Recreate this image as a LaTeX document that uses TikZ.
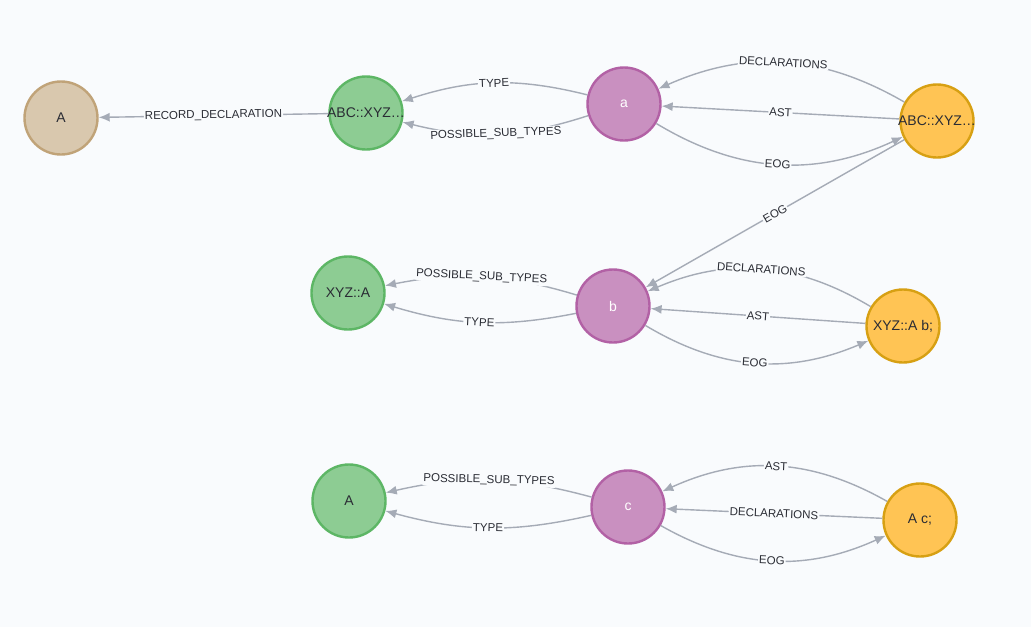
\documentclass[tikz,border=0pt]{standalone}
\usepackage{fontspec}
\setmainfont{Liberation Sans}
\usetikzlibrary{arrows.meta}
\definecolor{bgcol}{HTML}{F9FBFD}
\definecolor{edgecol}{HTML}{A5ABB6}
\definecolor{txtcol}{HTML}{2A2C34}
\definecolor{recfill}{HTML}{D9C8AE}
\definecolor{recdraw}{HTML}{C0A378}
\definecolor{typefill}{HTML}{8DCC93}
\definecolor{typedraw}{HTML}{5DB665}
\definecolor{varfill}{HTML}{C990C0}
\definecolor{vardraw}{HTML}{B261A5}
\definecolor{declfill}{HTML}{FFC454}
\definecolor{decldraw}{HTML}{D7A013}
\tikzstyle{base} = [circle, line width=2.4pt, minimum size=73pt, inner sep=0pt, font=\fontsize{14}{16}\selectfont, text=txtcol]
\tikzstyle{record} = [base, draw=recdraw, fill=recfill]
\tikzstyle{typenode} = [base, draw=typedraw, fill=typefill]
\tikzstyle{varnode} = [base, draw=vardraw, fill=varfill, text=white]
\tikzstyle{decl} = [base, draw=decldraw, fill=declfill]
\tikzstyle{rel} = [draw=edgecol, line width=1.4pt, -{Latex[length=11pt,width=9pt]}]
\tikzstyle{lbl} = [fill=bgcol, inner sep=1pt, sloped, text=txtcol, font=\fontsize{11.5}{13}\selectfont]

\begin{document}
\begin{tikzpicture}[x=1pt, y=1pt]

	\fill [bgcol] (0,0) rectangle (1031,-627);
	\useasboundingbox (0,0) rectangle (1031,-627);

	% first declaration
	\node [record] (recA) at (61,-118) {A};
	\node [typenode] (abcType) at (366,-113) {\makebox[0pt]{ABC::XYZ…}};
	\node [varnode] (varA) at (624,-104) {a};
	\node [decl] (declA) at (937,-121) {\makebox[0pt]{ABC::XYZ…}};

	% second declaration
	\node [typenode] (xyzType) at (348,-293) {XYZ::A};
	\node [varnode] (varB) at (613,-306) {b};
	\node [decl] (declB) at (903,-326) {\makebox[0pt]{XYZ::A b;}};

	% third declaration
	\node [typenode] (aType) at (349,-501) {A};
	\node [varnode] (varC) at (628,-507) {c};
	\node [decl] (declC) at (920,-520) {A c;};

	\draw [rel] (abcType) -- node [lbl] {RECORD\_DECLARATION} (recA);
	\draw [rel] (varA) to [bend right=16] node [lbl] {TYPE} (abcType);
	\draw [rel] (varA) to [bend left=16] node [lbl] {POSSIBLE\_SUB\_TYPES} (abcType);
	\draw [rel] (declA) to [bend right=27] node [lbl] {DECLARATIONS} (varA);
	\draw [rel] (declA) -- node [lbl] {AST} (varA);
	\draw [rel] (varA) to [bend right=28] node [lbl] {EOG} (declA);
	\draw [rel] (declA) -- node [lbl] {EOG} (varB);

	\draw [rel] (declB) to [bend right=27] node [lbl] {DECLARATIONS} (varB);
	\draw [rel] (declB) -- node [lbl] {AST} (varB);
	\draw [rel] (varB) to [bend right=27] node [lbl] {EOG} (declB);
	\draw [rel] (varB) to [bend right=14] node [lbl] {POSSIBLE\_SUB\_TYPES} (xyzType);
	\draw [rel] (varB) to [bend left=14] node [lbl] {TYPE} (xyzType);

	\draw [rel] (declC) to [bend right=27] node [lbl] {AST} (varC);
	\draw [rel] (declC) -- node [lbl] {DECLARATIONS} (varC);
	\draw [rel] (varC) to [bend right=27] node [lbl] {EOG} (declC);
	\draw [rel] (varC) to [bend right=14] node [lbl] {POSSIBLE\_SUB\_TYPES} (aType);
	\draw [rel] (varC) to [bend left=14] node [lbl] {TYPE} (aType);

\end{tikzpicture}
\end{document}
